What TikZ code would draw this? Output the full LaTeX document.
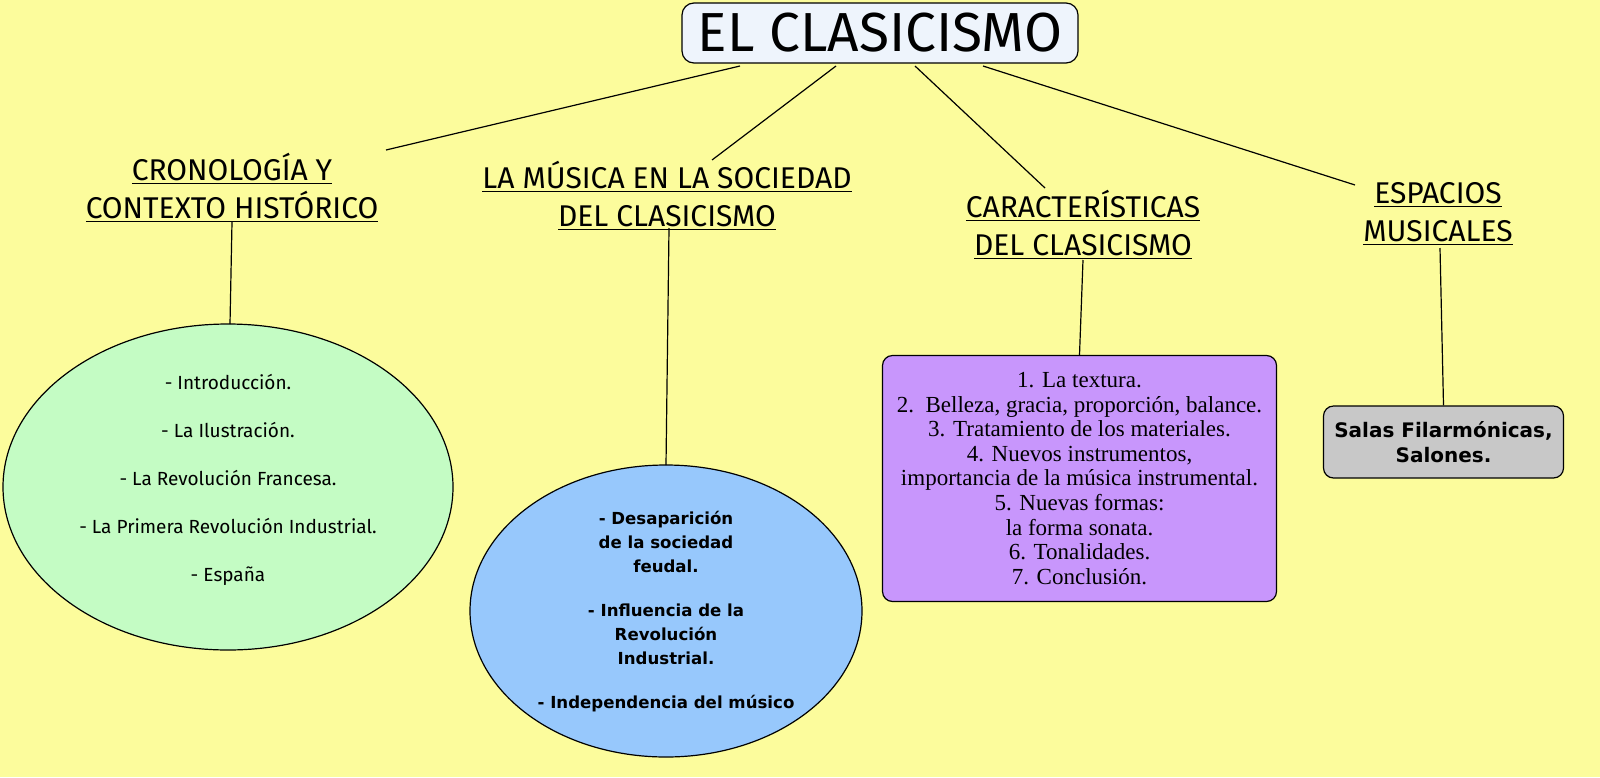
\documentclass[tikz,border=0pt]{standalone}
\usepackage{fontspec}
\setmainfont{Liberation Serif}
\newfontfamily\headf{Fira Sans}
\newfontfamily\boldf{DejaVu Sans}
\begin{document}
\begin{tikzpicture}[x=0.5pt,y=-0.5pt,
 head/.style={font=\headf\fontsize{15}{18}\selectfont,align=center,inner sep=0},
 lnk/.style={draw=black,line width=0.6pt}]
\definecolor{bg}{HTML}{FCFC9C}
\fill[bg] (0,0) rectangle (1600,777);
\useasboundingbox (0,0) rectangle (1600,777);
\node[draw,fill={rgb,255:red,238;green,244;blue,252},rounded corners=6pt,minimum width=198pt,minimum height=30pt,line width=0.6pt,font=\headf\fontsize{27.5}{27.5}\selectfont] (t) at (880,33) {EL CLASICISMO};
\node[head] (h1) at (232,188) {\underline{CRONOLOGÍA Y}\\[1pt]\underline{CONTEXTO HISTÓRICO}};
\node[head] (h2) at (667,196) {\underline{LA MÚSICA EN LA SOCIEDAD}\\[1pt]\underline{DEL CLASICISMO}};
\node[head] (h3) at (1083,225) {\underline{CARACTERÍSTICAS}\\[1pt]\underline{DEL CLASICISMO}};
\node[head] (h4) at (1438,214) {\underline{ESPACIOS}\\[1pt]\underline{MUSICALES}};
\draw[lnk] (740,66) -- (386,150);
\draw[lnk] (836,66) -- (712,160);
\draw[lnk] (915,66) -- (1045,188);
\draw[lnk] (983,66) -- (1355,185);
\draw[lnk,fill={rgb,255:red,196;green,252;blue,196}] (228,487) ellipse [x radius=225,y radius=163];
\node[font=\headf\fontsize{9.5}{12}\selectfont,align=center] (e1) at (228,480) {- Introducción.\\[12pt]- La Ilustración.\\[12pt]- La Revolución Francesa.\\[12pt]- La Primera Revolución Industrial.\\[12pt]- España};
\draw[lnk,fill={rgb,255:red,151;green,200;blue,252}] (666,611) ellipse [x radius=196,y radius=146];
\node[font=\boldf\bfseries\fontsize{8.3}{12}\selectfont,align=center] (e2) at (666,612) {- Desaparición\\de la sociedad\\feudal.\\[10pt]- Influencia de la\\Revolución\\Industrial.\\[10pt]- Independencia del músico};
\node[draw,fill={rgb,255:red,200;green,150;blue,252},rounded corners=5pt,minimum width=197pt,minimum height=123pt,line width=0.6pt,font=\fontsize{11.5}{12.3}\selectfont,align=center,inner sep=0] (p) at (1079.5,478.5) {1. La textura.\\2.\ \ Belleza, gracia, proporción, balance.\\3. Tratamiento de los materiales.\\4. Nuevos instrumentos,\\importancia de la música instrumental.\\5. Nuevas formas:\\la forma sonata.\\6. Tonalidades.\\7. Conclusión.};
\node[draw,fill={rgb,255:red,200;green,200;blue,200},rounded corners=5pt,minimum width=120pt,minimum height=36pt,line width=0.6pt,font=\boldf\bfseries\fontsize{10}{12.5}\selectfont,align=center] (g) at (1443.5,442) {Salas Filarmónicas,\\Salones.};
\draw[lnk] (232,222) -- (230,324);
\draw[lnk] (669,228) -- (666,465);
\draw[lnk] (1083,260) -- (p.north);
\draw[lnk] (1440,248) -- (g.north);
\end{tikzpicture}
\end{document}
